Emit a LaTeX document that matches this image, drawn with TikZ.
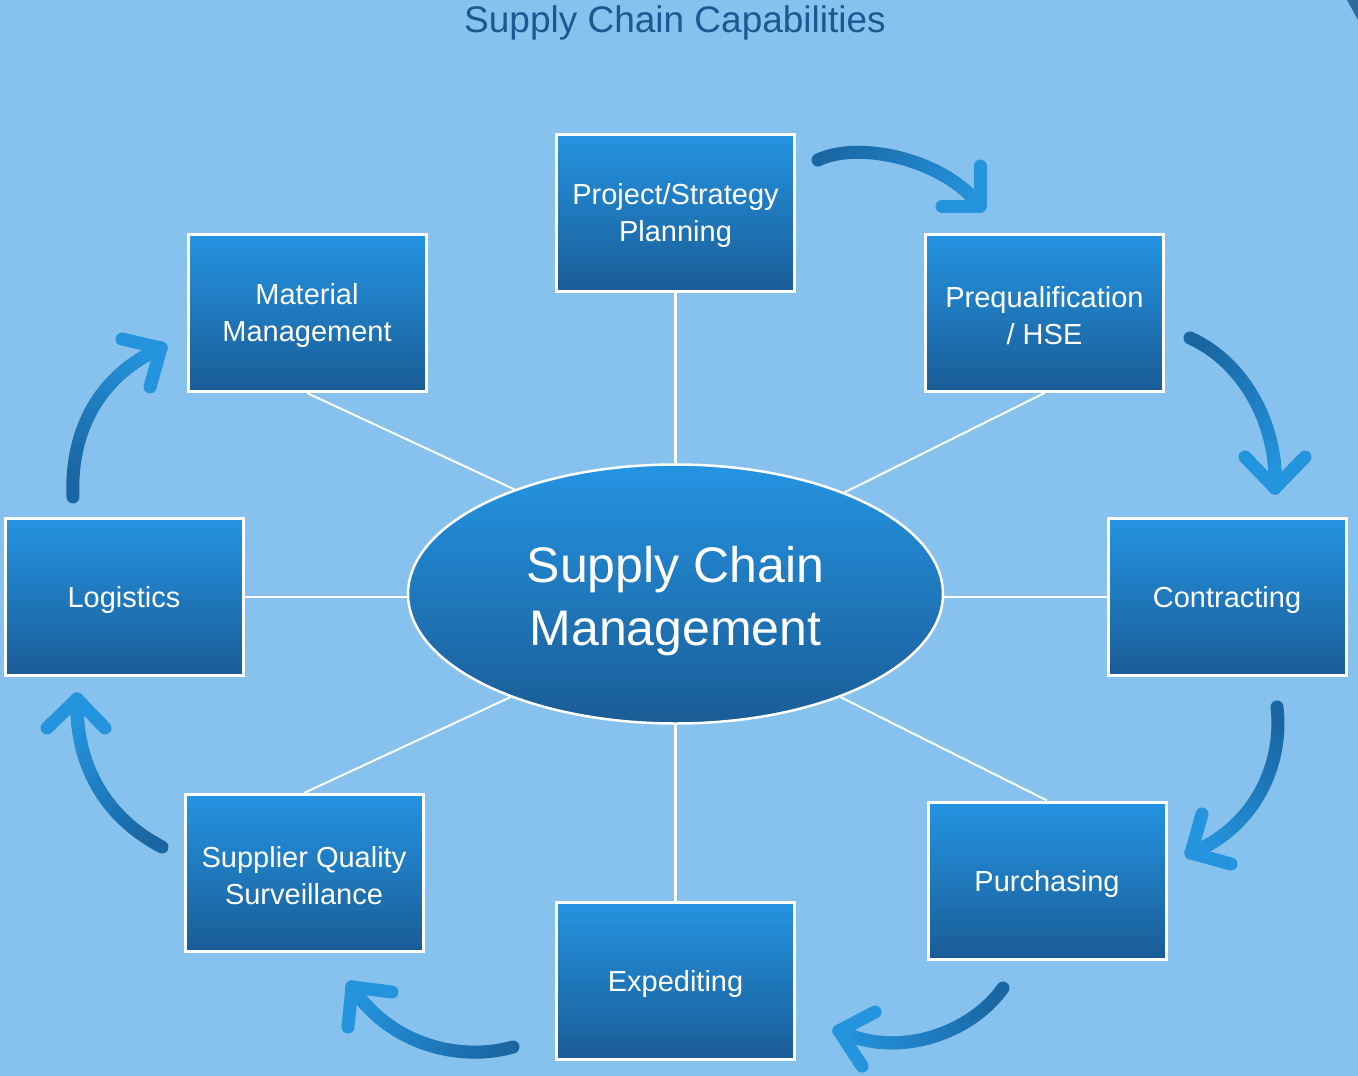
\documentclass[tikz,border=0pt]{standalone}
\usepackage{fontspec}
\setmainfont{Liberation Sans}
\usetikzlibrary{shapes.geometric,fadings}
\definecolor{bg}{HTML}{86C2ED}
\definecolor{boxtop}{HTML}{2494E2}
\definecolor{boxbot}{HTML}{1A5C96}
\definecolor{titlec}{HTML}{1A5A92}
\definecolor{arrowdark}{HTML}{1A66A2}
\definecolor{arrowlight}{HTML}{2494DE}
\definecolor{cornerc}{HTML}{2C6C9C}
\newcommand\bxs{\rule{0pt}{27pt}}
\newcommand\hbs{\rule{0pt}{50pt}}
\begin{document}
\begin{tikzpicture}[x=1pt,y=-1pt,
  box/.style={draw=white,line width=3pt,top color=boxtop,bottom color=boxbot,
    minimum width=238pt,minimum height=157pt,inner sep=0pt,text=white,align=center,
    font=\fontsize{29}{37}\selectfont},
  hub/.style={ellipse,draw=white,line width=2.5pt,top color=boxtop,bottom color=boxbot,
    minimum width=535pt,minimum height=259pt,inner sep=0pt,text=white,align=center,
    font=\fontsize{50}{63}\selectfont},
  link/.style={white,line width=2.5pt},
  thinlink/.style={white,line width=2pt},
  curv/.style={line width=13pt,line cap=round,arrowdark},
  curvlight/.style={line width=13pt,line cap=round,arrowlight,path fading=west},
  headst/.style={line width=13pt,line cap=round,line join=round,arrowlight}]
\fill[bg] (0,0) rectangle (1358,1076);
\useasboundingbox (0,0) rectangle (1358,1076);
\fill[cornerc] (1347,0) -- (1358,0) -- (1358,20) -- cycle;

\node[text=titlec,font=\fontsize{37}{44}\selectfont] (title) at (675,23) {Supply Chain Capabilities};

\node[hub] (scm) at (675.5,594) {\hbs Supply Chain\\Management};
\node[box] (proj) at (675.5,213) {\bxs Project/Strategy\\Planning};
\node[box] (mat) at (307,313) {\bxs Material\\Management};
\node[box] (preq) at (1044.5,313) {\bxs Prequalification\\/ HSE};
\node[box] (log) at (124,597) {\bxs Logistics};
\node[box] (con) at (1227,597) {\bxs Contracting};
\node[box] (sqs) at (304,873) {\bxs Supplier Quality\\Surveillance};
\node[box] (pur) at (1047,880.5) {\bxs Purchasing};
\node[box] (exp) at (675.5,980.5) {\bxs Expediting};

\draw[link] (proj.south) -- (scm.north);
\draw[link] (exp.north) -- (scm.south);
\draw[link] (log.east) -- (log.east -| scm.west);
\draw[link] (con.west) -- (con.west -| scm.east);
\draw[thinlink] (mat.south) -- (scm.147);
\draw[thinlink] (preq.south) -- (scm.31);
\draw[thinlink] (sqs.north) -- (scm.212);
\draw[thinlink] (pur.north) -- (scm.-32);

% arrow 1: project -> prequalification
\coordinate (a1t) at (818,160); \coordinate (a1v) at (980,206);
\coordinate (a1p) at (980,166); \coordinate (a1q) at (942,206);
\draw[curv] (a1t) .. controls (860,140) and (945,160) .. (a1v);
\draw[curvlight,fading angle=-15] (a1t) .. controls (860,140) and (945,160) .. (a1v);
\draw[headst] (a1p) -- (a1v) -- (a1q);

% arrow 2: prequalification -> contracting
\coordinate (a2t) at (1190,338); \coordinate (a2v) at (1275,488);
\coordinate (a2p) at (1245,457); \coordinate (a2q) at (1305,457);
\draw[curv] (a2t) .. controls (1240,360) and (1278,420) .. (a2v);
\draw[curvlight,fading angle=-61] (a2t) .. controls (1240,360) and (1278,420) .. (a2v);
\draw[headst] (a2p) -- (a2v) -- (a2q);

% arrow 3: contracting -> purchasing
\coordinate (a3t) at (1277,707); \coordinate (a3v) at (1191,853);
\coordinate (a3p) at (1202,814); \coordinate (a3q) at (1231,864);
\draw[curv] (a3t) .. controls (1284,770) and (1250,830) .. (a3v);
\draw[curvlight,fading angle=240] (a3t) .. controls (1284,770) and (1250,830) .. (a3v);
\draw[headst] (a3p) -- (a3v) -- (a3q);

% arrow 4: purchasing -> expediting
\coordinate (a4t) at (1003,988); \coordinate (a4v) at (839,1031);
\coordinate (a4p) at (875,1012); \coordinate (a4q) at (862,1066);
\draw[curv] (a4t) .. controls (972,1032) and (900,1060) .. (a4v);
\draw[curvlight,fading angle=195] (a4t) .. controls (972,1032) and (900,1060) .. (a4v);
\draw[headst] (a4p) -- (a4v) -- (a4q);

% arrow 5: expediting -> supplier quality
\coordinate (a5t) at (513,1047); \coordinate (a5v) at (352,987);
\coordinate (a5p) at (392,992); \coordinate (a5q) at (348,1027);
\draw[curv] (a5t) .. controls (460,1062) and (390,1045) .. (a5v);
\draw[curvlight,fading angle=160] (a5t) .. controls (460,1062) and (390,1045) .. (a5v);
\draw[headst] (a5p) -- (a5v) -- (a5q);

% arrow 6: supplier quality -> logistics
\coordinate (a6t) at (162,847); \coordinate (a6v) at (77,699);
\coordinate (a6p) at (47,728); \coordinate (a6q) at (105,728);
\draw[curv] (a6t) .. controls (110,820) and (75,770) .. (a6v);
\draw[curvlight,fading angle=120] (a6t) .. controls (110,820) and (75,770) .. (a6v);
\draw[headst] (a6p) -- (a6v) -- (a6q);

% arrow 7: logistics -> material
\coordinate (a7t) at (73,497); \coordinate (a7v) at (161,348);
\coordinate (a7p) at (122,339); \coordinate (a7q) at (150,387);
\draw[curv] (a7t) .. controls (70,430) and (100,375) .. (a7v);
\draw[curvlight,fading angle=60] (a7t) .. controls (70,430) and (100,375) .. (a7v);
\draw[headst] (a7p) -- (a7v) -- (a7q);
\end{tikzpicture}
\end{document}
